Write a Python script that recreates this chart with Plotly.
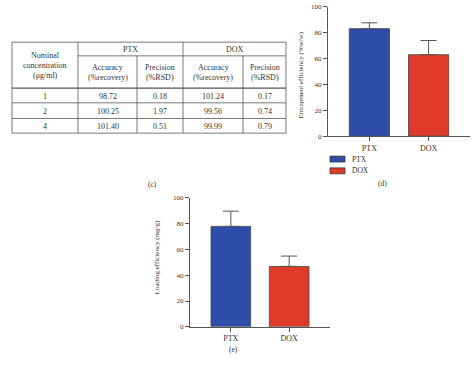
import plotly.graph_objects as go

W, H = 474, 370

# ---- data ----
categories = ["PTX", "DOX"]
entrap_values = [83.2, 63.0]
entrap_err = [4.5, 11.0]
loading_values = [77.8, 46.8]
loading_err = [11.8, 8.0]
bar_colors = ["#2E4DA8", "#E03A2A"]
y_ticks = [0, 20, 40, 60, 80, 100]

table_conc = ["1", "2", "4"]
ptx_accuracy = ["98.72", "100.25", "101.40"]
ptx_precision = ["0.18", "1.97", "0.51"]
dox_accuracy = ["101.24", "99.56", "99.99"]
dox_precision = ["0.17", "0.74", "0.79"]

FONT = "Liberation Serif"
TXT = "#333333"
AX = "#555555"

def px(x):
    return x / W

def py(y):
    return 1 - y / H

fig = go.Figure()

# ---- bar chart (d) ----
fig.add_trace(go.Bar(
    x=categories, y=entrap_values, width=0.68,
    marker=dict(color=bar_colors, line=dict(color="#444444", width=0.8)),
    error_y=dict(type="data", array=entrap_err, arrayminus=[0, 0], symmetric=False,
                 color="#555555", thickness=1, width=8),
    xaxis="x", yaxis="y", showlegend=False, hoverinfo="skip"))

# ---- bar chart (e) ----
fig.add_trace(go.Bar(
    x=categories, y=loading_values, width=0.68,
    marker=dict(color=bar_colors, line=dict(color="#444444", width=0.8)),
    error_y=dict(type="data", array=loading_err, arrayminus=[0, 0], symmetric=False,
                 color="#555555", thickness=1, width=8),
    xaxis="x2", yaxis="y2", showlegend=False, hoverinfo="skip"))

xcommon = dict(type="category", range=[-0.7, 1.7], showline=True, linecolor=AX, linewidth=1,
               ticks="outside", ticklen=4, tickcolor=AX, showgrid=False, zeroline=False,
               tickfont=dict(family=FONT, size=8, color=TXT))
ycommon = dict(range=[0, 100], tickvals=y_ticks, showline=True, linecolor=AX, linewidth=1,
               ticks="outside", ticklen=4, tickcolor=AX, showgrid=False, zeroline=False,
               tickfont=dict(family=FONT, size=7, color=TXT))

fig.update_layout(
    width=W, height=H, margin=dict(l=0, r=0, t=0, b=0),
    paper_bgcolor="white", plot_bgcolor="white", bargap=0.3,
    xaxis=dict(domain=[px(328), px(470)], anchor="y", **xcommon),
    yaxis=dict(domain=[py(135), py(3)], anchor="x", **ycommon),
    xaxis2=dict(domain=[px(190), px(330)], anchor="y2", **xcommon),
    yaxis2=dict(domain=[py(330), py(198)], anchor="x2", **ycommon),
)

shapes = []
ann = []

def text(x, y, s, size=8, xanchor="center", angle=0):
    ann.append(dict(x=px(x), y=py(y), xref="paper", yref="paper", text=s, showarrow=False,
                    xanchor=xanchor, yanchor="middle", textangle=angle,
                    font=dict(family=FONT, size=size, color=TXT)))

def line(x0, y0, x1, y1, w=0.8):
    shapes.append(dict(type="line", xref="paper", yref="paper", x0=px(x0), y0=py(y0),
                       x1=px(x1), y1=py(y1), line=dict(color="#555555", width=w)))

# axis titles
text(301, 73, "Entrapment efficiency (%w/w)", size=7, angle=-90)
text(157, 259, "Loading efficiency (mg/g)", size=7, angle=-90)

# legend for (d)
leg_y = [158.5, 170.5]
for i, c in enumerate(categories):
    shapes.append(dict(type="rect", xref="paper", yref="paper",
                       x0=px(330), x1=px(345), y0=py(leg_y[i] - 3), y1=py(leg_y[i] + 3),
                       fillcolor=bar_colors[i], line=dict(color="#333333", width=0.8)))
    text(350, leg_y[i], c, size=7.5, xanchor="left")

# panel labels
text(152, 184, "(c)", size=7.5)
text(382, 183, "(d)", size=7.5)
text(233, 353, "(e)", size=7.5)

# ---- table (c) ----
col_edges = [12, 78, 137, 183, 243, 286]
y_top, y_sub, y_head, y_bot = 39, 53, 86, 132
row_lines = [101, 117]
row_centers = [94.5, 109.5, 125]

line(col_edges[0], y_top, col_edges[-1], y_top)
line(col_edges[1], y_sub, col_edges[-1], y_sub)
line(col_edges[0], y_head, col_edges[-1], y_head, 1.2)
for yl in row_lines:
    line(col_edges[0], yl, col_edges[-1], yl)
line(col_edges[0], y_bot, col_edges[-1], y_bot)
for x in [col_edges[0], col_edges[1], col_edges[3], col_edges[5]]:
    line(x, y_top, x, y_bot)
for x in [col_edges[2], col_edges[4]]:
    line(x, y_sub, x, y_bot)

centers = [(col_edges[i] + col_edges[i + 1]) / 2 for i in range(5)]
text(centers[0], 53, "Nominal")
text(centers[0], 63, "concentration")
text(centers[0], 73, "(μg/ml)")
text((col_edges[1] + col_edges[3]) / 2, 47, "PTX")
text((col_edges[3] + col_edges[5]) / 2, 47, "DOX")
for ci in [1, 3]:
    text(centers[ci], 65, "Accuracy")
    text(centers[ci], 75, "(%recovery)")
for ci in [2, 4]:
    text(centers[ci], 65, "Precision")
    text(centers[ci], 75, "(%RSD)")

cols = [table_conc, ptx_accuracy, ptx_precision, dox_accuracy, dox_precision]
for ci, col in enumerate(cols):
    for ri, v in enumerate(col):
        text(centers[ci], row_centers[ri], v)

fig.update_layout(shapes=shapes, annotations=ann)
fig.write_html("out.html", config={"displayModeBar": False, "staticPlot": True},
               post_script="document.body.style.margin='0';")
